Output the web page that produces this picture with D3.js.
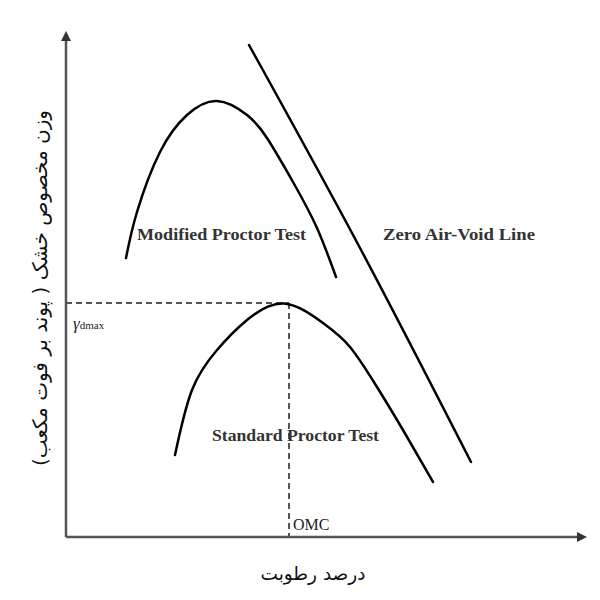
<!DOCTYPE html>
<html><head><meta charset="utf-8">
<script src="https://cdn.jsdelivr.net/npm/d3@7"></script>
<style>body{margin:0;background:#fff}svg{display:block}</style>
</head><body>
<svg id="c" width="600" height="600"></svg>
<script>
// moisture content (x) and dry unit weight (y), arbitrary read units
const modifiedX = [3.0, 3.55, 4.7, 6.05, 7.55, 9.05, 10.05, 11.35, 12.55, 13.5];
const modifiedY = [117.9, 122.5, 128.5, 132.2, 133.6, 132.2, 129.9, 125.5, 120.9, 116.0];
const standardX = [5.45, 6.3, 7.55, 9.05, 10.9, 12.85, 14.2, 15.55, 16.85, 18.35];
const standardY = [98.2, 104.7, 108.7, 111.7, 113.35, 111.4, 109.0, 105.0, 100.7, 95.5];
const zavX = [9.15, 14.7, 20.25];
const zavY = [139.2, 118.9, 97.5];
const omc = 11.15;
const gammaDmax = 113.4;
const labels = ["Modified Proctor Test", "Zero Air-Void Line", "Standard Proctor Test"];
const xTitle = "درصد رطوبت";
const yTitle = "وزن مخصوص خشک ( پوند بر فوت مکعب)";

const svg = d3.select("#c");
const x = d3.scaleLinear().domain([0, 26]).range([66, 586]);
const y = d3.scaleLinear().domain([90, 140]).range([537, 37]);

const defs = svg.append("defs");
defs.append("marker").attr("id","arr").attr("viewBox","0 0 10 10").attr("refX",5).attr("refY",5)
  .attr("markerWidth",4).attr("markerHeight",4).attr("orient","auto")
  .append("path").attr("d","M0,0 L10,5 L0,10 z").attr("fill","#333");

// axes
svg.append("line").attr("x1", x(0)).attr("y1", y(90)).attr("x2", x(0)).attr("y2", 36)
  .attr("stroke","#555").attr("stroke-width",2.5).attr("marker-end","url(#arr)");
svg.append("line").attr("x1", x(0)).attr("y1", y(90)).attr("x2", 582).attr("y2", y(90))
  .attr("stroke","#555").attr("stroke-width",2.5).attr("marker-end","url(#arr)");

// dashed guides
svg.append("line").attr("x1", x(0)).attr("x2", x(omc)).attr("y1", y(gammaDmax)).attr("y2", y(gammaDmax))
  .attr("stroke","#555").attr("stroke-width",2).attr("stroke-dasharray","6,4");
svg.append("line").attr("x1", x(omc)).attr("x2", x(omc)).attr("y1", y(gammaDmax)).attr("y2", y(90))
  .attr("stroke","#555").attr("stroke-width",2).attr("stroke-dasharray","6,4");

const line = d3.line().x(d => x(d[0])).y(d => y(d[1])).curve(d3.curveNatural);
[[modifiedX, modifiedY], [standardX, standardY], [zavX, zavY]].forEach(([xs, ys]) => {
  svg.append("path").attr("d", line(d3.zip(xs, ys))).attr("fill","none")
    .attr("stroke","#000").attr("stroke-width",2.5).attr("stroke-linecap","round");
});

const serif = "'Liberation Serif', 'Times New Roman', serif";
const lab = (t, px, py, len) => svg.append("text").attr("x", px).attr("y", py).text(t)
  .attr("font-family", serif).attr("font-size", 17).attr("font-weight","bold").attr("fill","#333")
  .attr("textLength", len).attr("lengthAdjust","spacingAndGlyphs");
lab(labels[0], x(3.55), y(119.7), 169);
lab(labels[1], x(15.85), y(119.7), 152);
lab(labels[2], x(7.3), y(99.6), 167);

svg.append("text").attr("x", x(omc) + 4).attr("y", y(90) - 7).text("OMC")
  .attr("font-family", serif).attr("font-size", 16).attr("fill","#222");
const g = svg.append("text").attr("x", x(0) + 7).attr("y", y(gammaDmax) + 26)
  .attr("font-family", serif).attr("fill","#222");
g.append("tspan").text("γ").attr("font-size", 17).attr("font-style","italic");
g.append("tspan").text("dmax").attr("font-size", 11);

svg.append("text").attr("x", 313).attr("y", 580).attr("text-anchor","middle")
  .attr("font-family","'DejaVu Sans', sans-serif").attr("font-size",18.5).attr("fill","#111").text(xTitle);
svg.append("text").attr("transform","translate(47,288) rotate(-90)").attr("text-anchor","middle")
  .attr("font-family","'DejaVu Sans', sans-serif").attr("font-size",20).attr("fill","#111").text(yTitle);
</script>
</body></html>
